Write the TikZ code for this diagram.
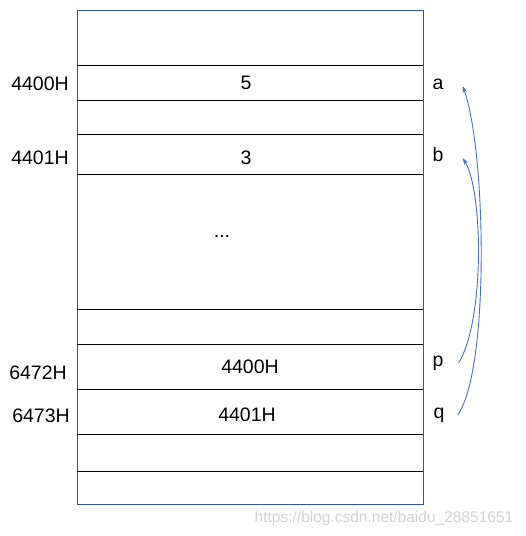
\documentclass[tikz,border=0pt]{standalone}
\usepackage{fontspec}
\setmainfont{Liberation Sans}
\usetikzlibrary{arrows.meta}
\definecolor{boxblue}{HTML}{2F5597}
\definecolor{ptrblue}{HTML}{4472C4}

\begin{document}
\begin{tikzpicture}[x=1pt,y=-1pt,
        every node/.style={font=\fontsize{19.5}{22}\selectfont, inner sep=2pt},
        ptr/.style={ptrblue, line width=0.9pt, -{Stealth[length=7pt,width=4.5pt]}}]
        \useasboundingbox (0,0) rectangle (526,536);

        % Draw memory block and the cell borders
        \draw[boxblue, line width=1pt] (77,10) rectangle (423,504);
        \foreach \y in {65,100,134,174,309,344,389,434,471}
            \draw[line width=0.9pt] (77,\y) -- (423,\y);

        % Addresses on the left
        \node (addra) at (40,84) {4400H};
        \node (addrb) at (40,158) {4401H};
        \node (addrp) at (38,373) {6472H};
        \node (addrq) at (41,416) {6473H};

        % Cell contents
        \node (vala) at (246,83) {5};
        \node (valb) at (246,158) {3};
        \node (dots) at (222,236) {...};
        \node (valp) at (250,367) {4400H};
        \node (valq) at (247,415) {4401H};

        % Variable names on the right
        \node (vara) at (438,84) {a};
        \node (varb) at (438,155) {b};
        \node (varp) at (438,363) {p};
        \node (varq) at (439,415) {q};

        % Pointer arrows p -> b and q -> a
        \draw[ptr] ([xshift=13pt]varp.east) .. controls (485,320) and (483,190) .. ([xshift=17pt,yshift=-3pt]varb.east);
        \draw[ptr] ([xshift=11pt]varq.east) .. controls (490,370) and (486,150) .. ([xshift=17pt,yshift=-2pt]vara.east);

        % Watermark
        \node[gray!35, font=\fontsize{15.5}{17}\selectfont] (mark) at (384,518) {https://blog.csdn.net/baidu\_28851651};
\end{tikzpicture}
\end{document}
